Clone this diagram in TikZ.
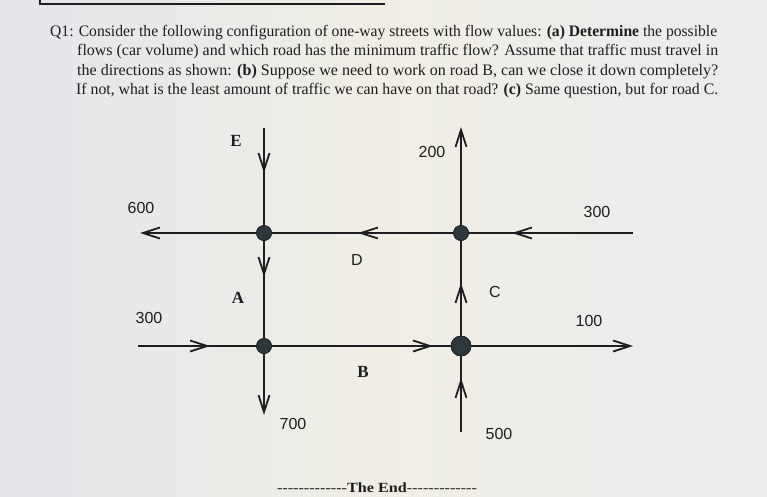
\documentclass[tikz,border=0pt]{standalone}
\usepackage{fontspec}
\setmainfont{Liberation Serif}
\newfontfamily\labsans{Liberation Sans}
\usetikzlibrary{arrows.meta,decorations.markings}
\definecolor{paper}{RGB}{236,235,238}
\definecolor{paperL}{RGB}{228,230,236}
\definecolor{paperM}{RGB}{240,238,228}
\definecolor{ink}{RGB}{30,30,32}
\definecolor{dotc}{RGB}{45,56,60}
\tikzset{
  road/.style={draw=ink, line width=1.2pt},
  barb/.tip={Straight Barb[length=17pt,width=11pt,line width=1.8pt]},
  midarrow/.style={postaction={decorate},decoration={markings,mark=at position #1 with {\arrow{barb}}}},
  endarrow/.style={-{barb}},
  junction/.style={circle, fill=dotc, draw=ink, line width=0.6pt, minimum size=15pt, inner sep=0pt},
  bigjunction/.style={junction, minimum size=20pt},
  numlab/.style={font=\labsans\fontsize{16}{18}\selectfont, text=ink, inner sep=0pt},
  serlab/.style={font=\fontsize{17}{19}\selectfont\bfseries, text=ink, inner sep=0pt},
  sanlab/.style={font=\labsans\fontsize{16}{18}\selectfont, text=ink, inner sep=0pt},
  qline/.style={anchor=west, inner sep=0pt, text=ink, font=\fontsize{16}{18}\selectfont}
}
\begin{document}
\begin{tikzpicture}[x=1pt,y=-1pt]
\shade[left color=paperL, right color=paper, middle color=paperM] (0,0) rectangle (767,496);
\useasboundingbox (0,0) rectangle (767,496);
\draw[ink, line width=2.5pt] (40,-2) -- (40,4) -- (385,4);

% question text
\node[qline] (q1) at (50,33) {\resizebox{667pt}{\height}{Q1: Consider the following configuration of one-way streets with flow values: \textbf{(a) Determine} the possible}};
\node[qline] (q2) at (77,52) {\resizebox{641pt}{\height}{flows (car volume) and which road has the minimum traffic flow? Assume that traffic must travel in}};
\node[qline] (q3) at (77,72) {\resizebox{641pt}{\height}{the directions as shown: \textbf{(b)} Suppose we need to work on road B, can we close it down completely?}};
\node[qline] (q4) at (76,91) {\resizebox{642pt}{\height}{If not, what is the least amount of traffic we can have on that road? \textbf{(c)} Same question, but for road C.}};

% junctions
\node[junction] (n1) at (264,233) {};
\node[junction] (n2) at (461,233) {};
\node[junction] (n3) at (264,346) {};
\node[bigjunction] (n4) at (461,346) {};

% free ends
\coordinate (eTop) at (264,128);
\coordinate (wTop) at (140,233);
\coordinate (eastTop) at (633,233);
\coordinate (nTop) at (461,127);
\coordinate (wBot) at (138,346);
\coordinate (eastBot) at (633,346);
\coordinate (sLeft) at (264,415);
\coordinate (sRight) at (461,432);

% roads
\draw[road, midarrow=45pt] (eTop) -- (n1.center);
\draw[road, endarrow] (n1.center) -- (wTop);
\draw[road, midarrow=103pt] (n2.center) -- (n1.center);
\draw[road, midarrow=121pt] (eastTop) -- (n2.center);
\draw[road, midarrow=44pt] (n1.center) -- (n3.center);
\draw[road, midarrow=63pt] (n4.center) -- (n2.center);
\draw[road, endarrow] (n2.center) -- (nTop);
\draw[road, midarrow=72pt] (wBot) -- (n3.center);
\draw[road, midarrow=169pt] (n3.center) -- (n4.center);
\draw[road, endarrow] (n4.center) -- (eastBot);
\draw[road, endarrow] (n3.center) -- (sLeft);
\draw[road, midarrow=54pt] (sRight) -- (n4.center);

% redraw dots on top
\node[junction] at (n1) {};
\node[junction] at (n2) {};
\node[junction] at (n3) {};
\node[bigjunction] at (n4) {};

% labels
\node[serlab] (lE) at (236,141) {E};
\node[numlab] (l200) at (432,152) {200};
\node[numlab] (l600) at (141,208) {600};
\node[numlab] (l300r) at (597,212) {300};
\node[sanlab] (lD) at (357,260) {D};
\node[serlab] (lA) at (238,298) {A};
\node[sanlab] (lC) at (495,292) {C};
\node[numlab] (l300l) at (149,318) {300};
\node[numlab] (l100) at (589,321) {100};
\node[serlab] (lB) at (363,372) {B};
\node[numlab] (l700) at (293,424) {700};
\node[numlab] (l500) at (499,434) {500};

\node[inner sep=0pt, text=ink, font=\fontsize{14}{16}\selectfont] (theend) at (377,488) {\resizebox{200pt}{\height}{{-}{-}{-}{-}{-}{-}{-}{-}{-}{-}{-}{-}{-}\textbf{The End}{-}{-}{-}{-}{-}{-}{-}{-}{-}{-}{-}{-}{-}}};
\end{tikzpicture}
\end{document}
